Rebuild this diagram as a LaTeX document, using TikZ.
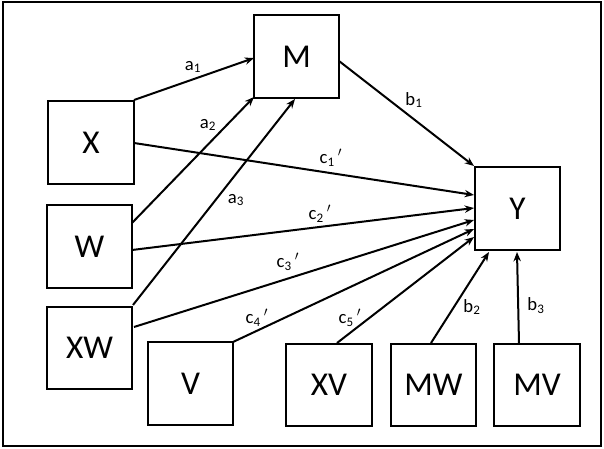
\documentclass[tikz,border=0pt]{standalone}
\usepackage{fontspec}
\setmainfont{Carlito}
\usetikzlibrary{arrows.meta}
\begin{document}
\begin{tikzpicture}[x=0.75pt,y=-0.75pt,
  box/.style={draw,line width=1.5pt,font=\fontsize{25}{30}\selectfont},
  arr/.style={line width=1.5pt,-{Stealth[length=7pt,width=5.5pt]}},
  lab/.style={font=\fontsize{14}{16}\selectfont,inner sep=0pt}]
\useasboundingbox (0,0) rectangle (604,449);
\draw[line width=1.5pt] (3,2) rectangle (601,446);
\newcommand\bx[6]{\draw[line width=1.5pt] (#2,#3) rectangle (#4,#5); \node[font=\fontsize{25}{30}\selectfont] (#1) at ({(#2+#4)/2},{(#3+#5)/2}) {#6};}
\bx{M}{254}{15}{339}{98}{M}
\bx{X}{48}{101}{134}{184}{X}
\bx{W}{47}{205}{132}{288}{W}
\bx{XW}{47}{307}{132}{389}{XW}
\bx{Y}{475}{167}{560}{250}{Y}
\bx{V}{148}{342}{233}{425}{V}
\bx{XV}{286}{344}{372}{426}{XV}
\bx{MW}{391}{344}{476}{426}{MW}
\bx{MV}{494}{344}{580}{426}{MV}
% endpoints
\coordinate (x1) at (134,100); \coordinate (m1) at (254,58);
\coordinate (w1) at (132,223); \coordinate (m2) at (254,97);
\coordinate (xw1) at (133,305); \coordinate (m3) at (295,99);
\coordinate (m4) at (339,61); \coordinate (y1) at (474,166);
\coordinate (x2) at (134,143); \coordinate (y2) at (474,195);
\coordinate (w2) at (132,250); \coordinate (y3) at (474,208);
\coordinate (xw2) at (134,327); \coordinate (y4) at (474,220);
\coordinate (v1) at (233,342); \coordinate (y5) at (474,229);
\coordinate (xv1) at (337,343); \coordinate (y6) at (474,237);
\coordinate (mw1) at (431,343); \coordinate (y7) at (489,252);
\coordinate (mv1) at (519,343); \coordinate (y8) at (517,252);
\draw[arr] (x1) -- (m1);
\draw[arr] (w1) -- (m2);
\draw[arr] (xw1) -- (m3);
\draw[arr] (m4) -- (y1);
\draw[arr] (x2) -- (y2);
\draw[arr] (w2) -- (y3);
\draw[arr] (xw2) -- (y4);
\draw[arr] (v1) -- (y5);
\draw[arr] (xv1) -- (y6);
\draw[arr] (mw1) -- (y7);
\draw[arr] (mv1) -- (y8);
\node[lab] (la1) at (193,67) {a\textsubscript{1}};
\node[lab] (la2) at (208,125) {a\textsubscript{2}};
\node[lab] (la3) at (236,200) {a\textsubscript{3}};
\node[lab] (lb1) at (414,100) {b\textsubscript{1}};
\node[lab] (lc1) at (331,158) {c\textsubscript{1}\,$'$};
\node[lab] (lc2) at (320,214) {c\textsubscript{2}\,$'$};
\node[lab] (lc3) at (288,262) {c\textsubscript{3}\,$'$};
\node[lab] (lc4) at (257,318) {c\textsubscript{4}\,$'$};
\node[lab] (lc5) at (350,318) {c\textsubscript{5}\,$'$};
\node[lab] (lb2) at (472,307) {b\textsubscript{2}};
\node[lab] (lb3) at (536,306) {b\textsubscript{3}};
\end{tikzpicture}
\end{document}
